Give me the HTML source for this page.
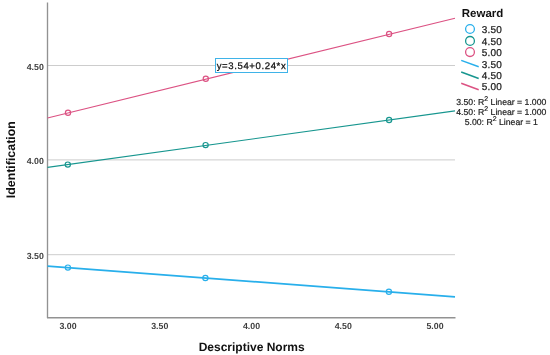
<!DOCTYPE html>
<html>
<head>
<meta charset="utf-8">
<style>
html,body{margin:0;padding:0;background:#fff;}
body{width:550px;height:355px;overflow:hidden;}
svg{display:block;}
text{font-family:"Liberation Sans",sans-serif;text-rendering:geometricPrecision;}
</style>
</head>
<body>
<svg width="550" height="355" viewBox="0 0 550 355" xmlns="http://www.w3.org/2000/svg">
<rect x="0" y="0" width="550" height="355" fill="#fff"/>
<!-- gridlines -->
<g stroke="#cdcdcd" stroke-width="1">
<line x1="47.5" y1="65.5" x2="455" y2="65.5"/>
<line x1="47.5" y1="159.9" x2="455" y2="159.9"/>
<line x1="47.5" y1="254.7" x2="455" y2="254.7"/>
</g>
<!-- axes -->
<g stroke="#929292" stroke-width="1.35">
<line x1="47.5" y1="2.5" x2="47.5" y2="318"/>
<line x1="47" y1="317.7" x2="455.5" y2="317.7"/>
</g>
<!-- y tick labels -->
<g font-size="8.8" font-weight="bold" fill="#3c3c3c" text-anchor="end">
<text x="43.8" y="69.6">4.50</text>
<text x="43.8" y="164">4.00</text>
<text x="43.8" y="258.6">3.50</text>
</g>
<!-- x tick labels -->
<g font-size="8.8" font-weight="bold" fill="#3c3c3c" text-anchor="middle">
<text x="68" y="329.1">3.00</text>
<text x="159.75" y="329.1">3.50</text>
<text x="251.5" y="329.1">4.00</text>
<text x="343.25" y="329.1">4.50</text>
<text x="435" y="329.1">5.00</text>
</g>
<!-- axis titles -->
<text x="251.7" y="351" font-size="12" font-weight="bold" fill="#111" text-anchor="middle">Descriptive Norms</text>
<text transform="translate(14.6,159.7) rotate(-90)" font-size="12.4" font-weight="bold" fill="#111" text-anchor="middle">Identification</text>
<!-- fit lines -->
<line x1="47.5" y1="118" x2="455" y2="18.2" stroke="#dc5283" stroke-width="1.15"/>
<line x1="47.5" y1="167.4" x2="455" y2="110.9" stroke="#17968f" stroke-width="1.2"/>
<line x1="47.5" y1="266.1" x2="455" y2="296.8" stroke="#28afeb" stroke-width="1.8"/>
<!-- markers -->
<g fill="none" stroke-width="1.2">
<circle cx="68" cy="112.7" r="2.6" stroke="#dc5283"/>
<circle cx="205.8" cy="78.8" r="2.6" stroke="#dc5283"/>
<circle cx="389.1" cy="34" r="2.6" stroke="#dc5283"/>
<circle cx="67.8" cy="164.6" r="2.6" stroke="#17968f"/>
<circle cx="205.6" cy="145.1" r="2.6" stroke="#17968f"/>
<circle cx="389.1" cy="120" r="2.6" stroke="#17968f"/>
<circle cx="67.9" cy="267.6" r="2.6" stroke="#28afeb"/>
<circle cx="205.4" cy="278" r="2.6" stroke="#28afeb"/>
<circle cx="388.9" cy="291.8" r="2.6" stroke="#28afeb"/>
</g>
<!-- annotation -->
<rect x="215.5" y="58.5" width="72" height="14" fill="#fff" stroke="#3fb3e8" stroke-width="1"/>
<text x="251.5" y="68.9" font-size="9.6" letter-spacing="0.6" fill="#111" stroke="#111" stroke-width="0.25" text-anchor="middle">y=3.54+0.24*x</text>
<!-- legend -->
<text x="461.8" y="16.9" font-size="11.5" font-weight="bold" fill="#111">Reward</text>
<g fill="none" stroke-width="1.3">
<circle cx="470" cy="29" r="4.4" stroke="#28afeb"/>
<circle cx="470" cy="40.9" r="4.4" stroke="#17968f"/>
<circle cx="470" cy="52.1" r="4.4" stroke="#dc5283"/>
</g>
<g stroke-width="1.5">
<line x1="461.2" y1="60.4" x2="478.7" y2="66.8" stroke="#28afeb"/>
<line x1="461.2" y1="72" x2="478.7" y2="78.5" stroke="#17968f"/>
<line x1="461.2" y1="83.3" x2="478.7" y2="89.7" stroke="#dc5283"/>
</g>
<g font-size="10" letter-spacing="0.15" fill="#222" stroke="#222" stroke-width="0.25">
<text x="481.8" y="33">3.50</text>
<text x="481.8" y="44.8">4.50</text>
<text x="481.8" y="56.3">5.00</text>
<text x="481.8" y="67.8">3.50</text>
<text x="481.8" y="78.7">4.50</text>
<text x="481.8" y="90.2">5.00</text>
</g>
<g font-size="8.7" fill="#222" stroke="#222" stroke-width="0.2" text-anchor="middle">
<text x="501.3" y="104.6">3.50: R<tspan font-size="7" dy="-3.6">2</tspan><tspan dy="3.6"> Linear = 1.000</tspan></text>
<text x="501.3" y="114.6">4.50: R<tspan font-size="7" dy="-3.6">2</tspan><tspan dy="3.6"> Linear = 1.000</tspan></text>
<text x="501.3" y="124.6">5.00: R<tspan font-size="7" dy="-3.6">2</tspan><tspan dy="3.6"> Linear = 1</tspan></text>
</g>
</svg>
</body>
</html>
